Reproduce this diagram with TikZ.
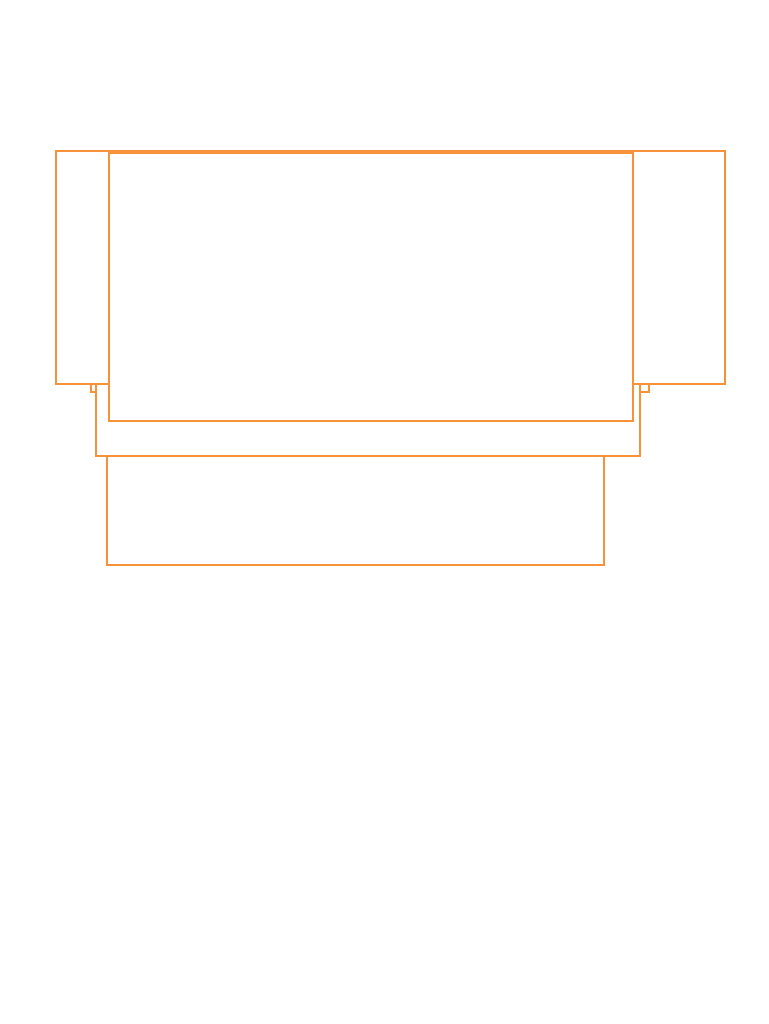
\documentclass[tikz,border=0pt]{standalone}
\begin{document}
\begin{tikzpicture}[
        x=0.75pt, y=-0.75pt,
        frame/.style={draw=printorange, line width=1.5pt, fill=white},
        thinframe/.style={draw=printorange, line width=1.2pt, fill=white}
    ]
        \definecolor{printorange}{RGB}{247,146,58}
        \useasboundingbox (0,0) rectangle (768,1024);

        % tray and its small tabs
        \draw[thinframe] (91,384) rectangle (96,392);
        \draw[thinframe] (640,384) rectangle (649,392);
        \draw[thinframe] (96,384) rectangle (640,456);
        % body
        \draw[frame, line width=2pt] (56,151) rectangle (725,384);
        % front cover
        \draw[frame] (109,153) rectangle (633,421);
        % paper
        \draw[thinframe] (107,456) rectangle (604,565);
    \end{tikzpicture}
\end{document}
